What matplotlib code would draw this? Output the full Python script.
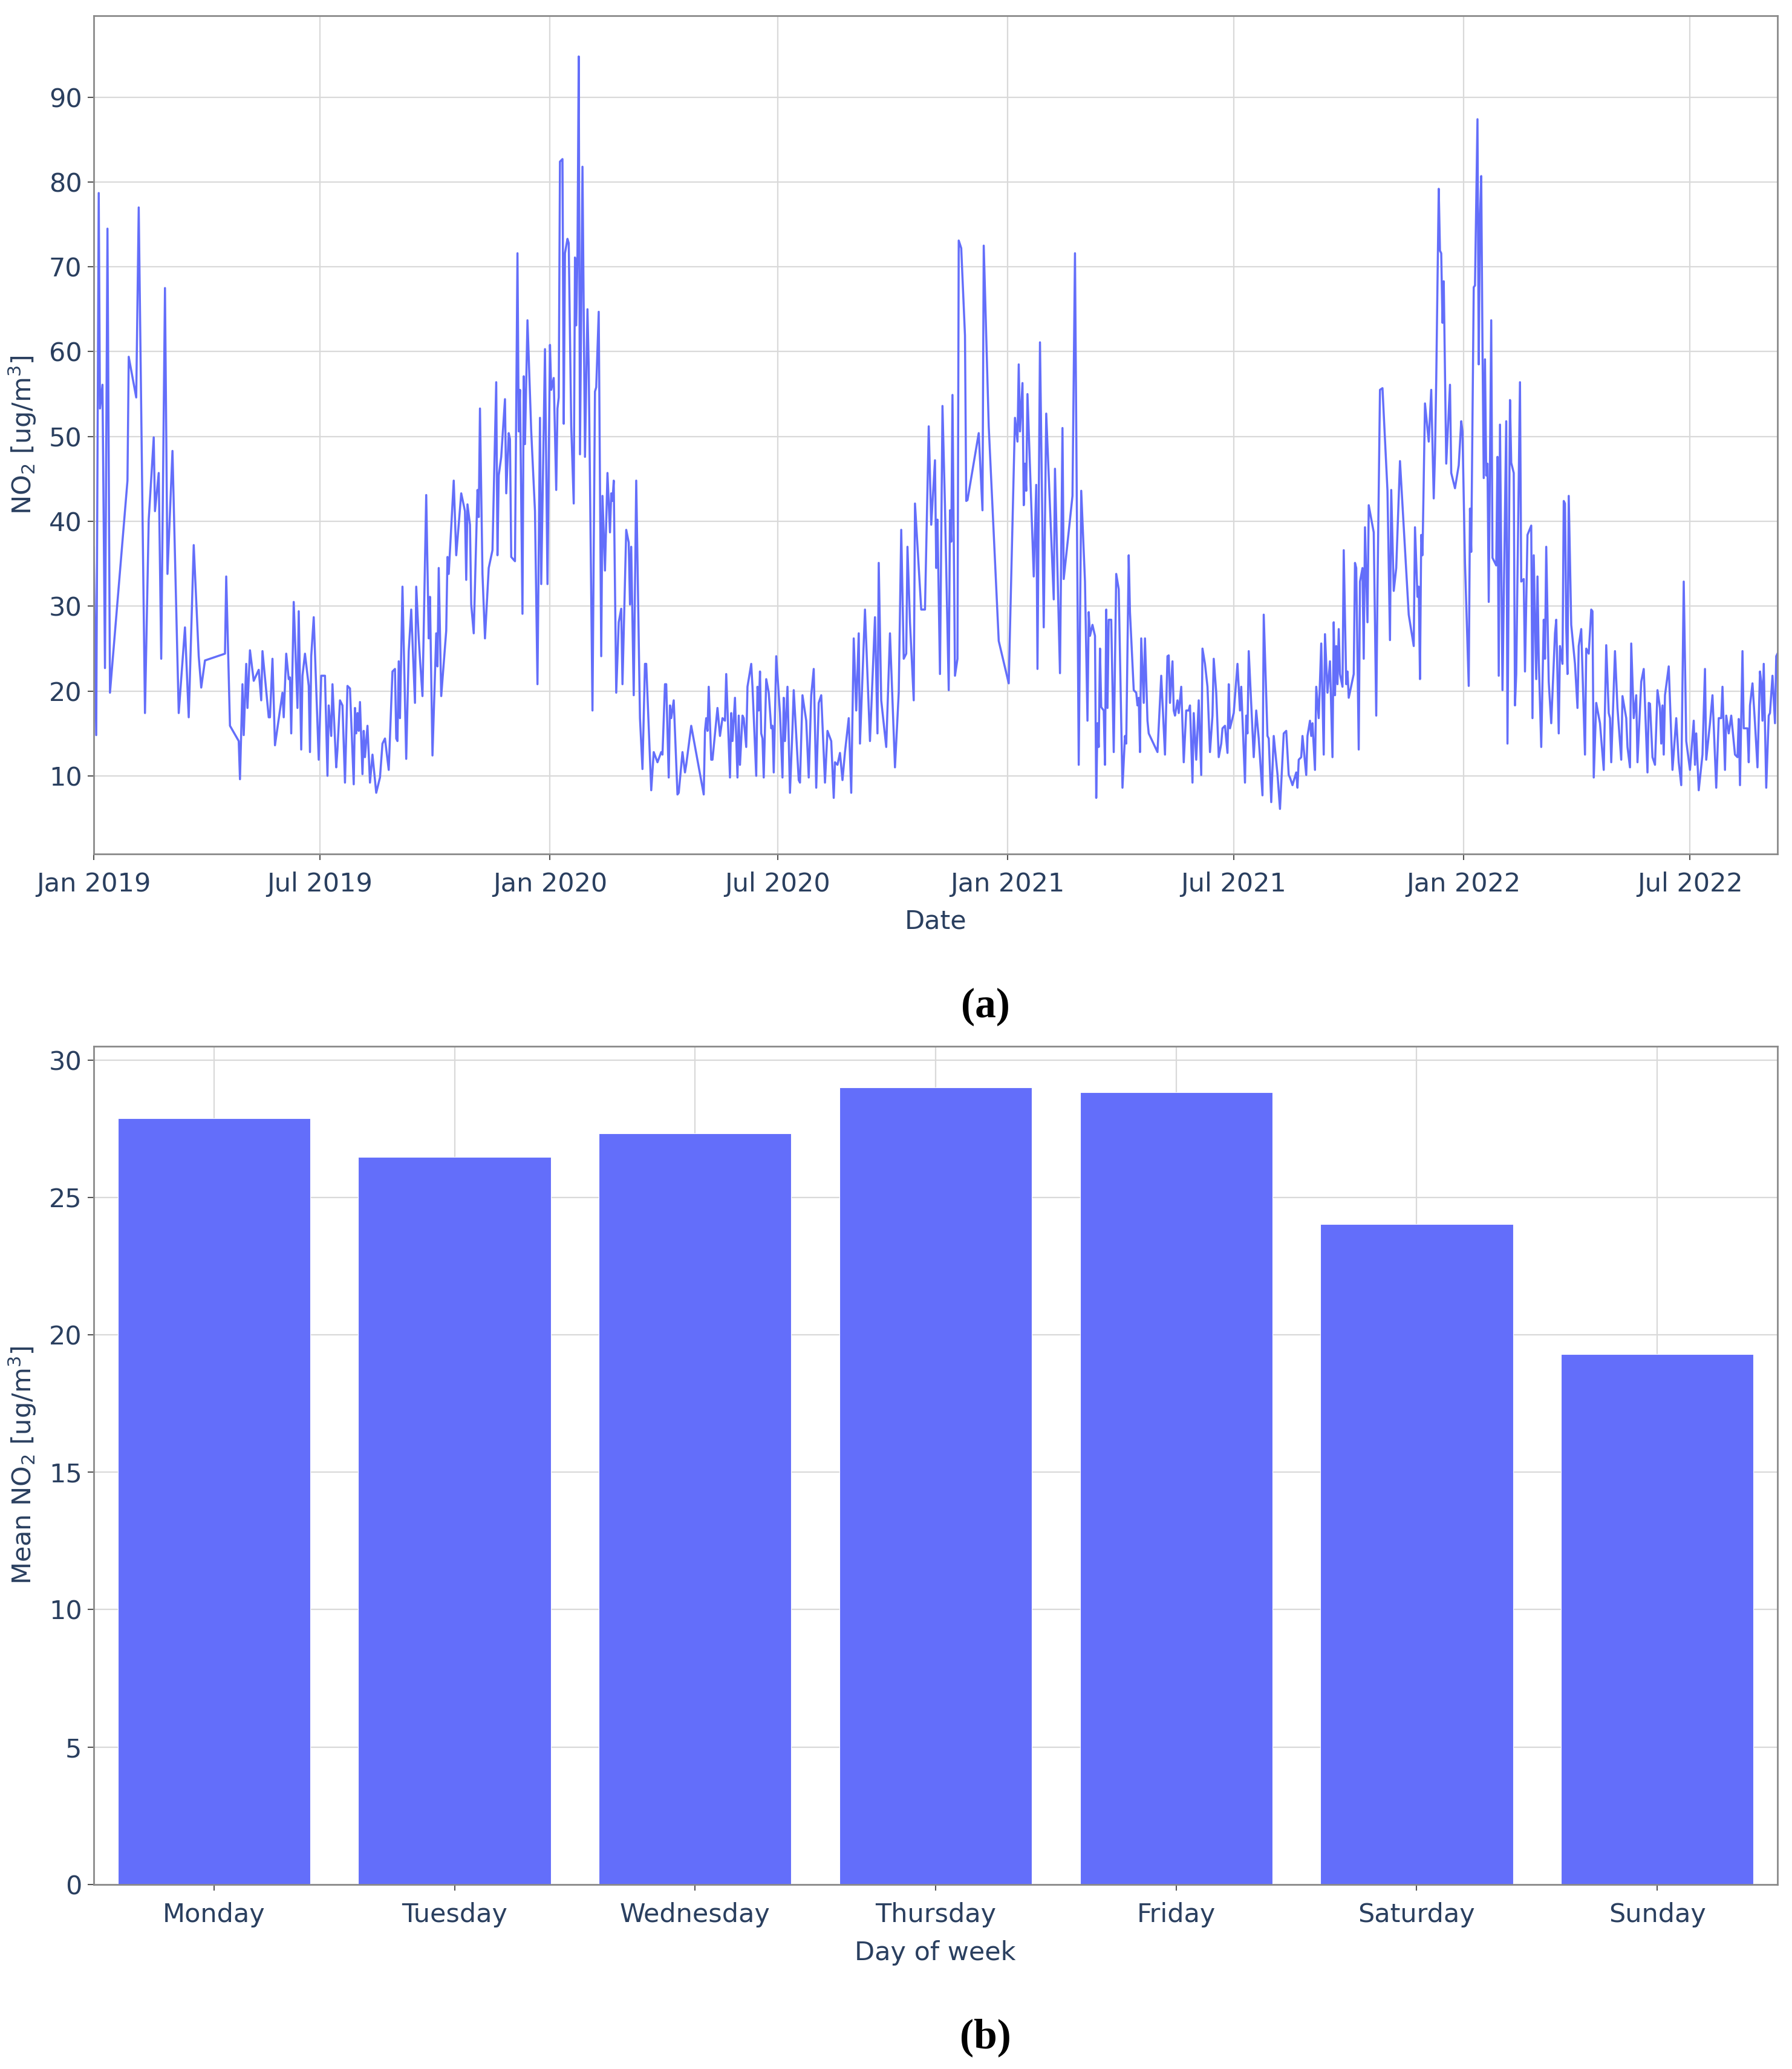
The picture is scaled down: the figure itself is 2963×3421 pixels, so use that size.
import pandas as pd
import matplotlib
matplotlib.use("Agg")
from matplotlib import pyplot as plt

# daily NO2 series (days since 2019-01-01, ug/m3)
START = pd.Timestamp("2019-01-01")

day_offset = [
    0, 2, 4, 5, 7, 9, 11, 13, 27, 28,
    34, 36, 41, 44, 48, 49, 52, 54, 57, 59,
    63, 68, 73, 76, 80, 84, 86, 89, 105, 106,
    109, 116, 117, 119, 120, 122, 123, 125, 128, 132,
    134, 135, 140, 141, 143, 145, 151, 152, 154, 156,
    157, 158, 160, 163, 164, 166, 167, 169, 172, 173,
    174, 176, 180, 182, 185, 187, 188, 190, 191, 194,
    195, 197, 199, 201, 203, 205, 208, 209, 210, 211,
    212, 213, 215, 216, 217, 219, 221, 223, 226, 229,
    231, 233, 236, 239, 241, 242, 243, 244, 245, 247,
    250, 252, 254, 257, 258, 260, 261, 263, 266, 268,
    269, 271, 274, 275, 276, 278, 282, 283, 284, 288,
    290, 294, 297, 298, 299, 301, 302, 304, 307, 308,
    309, 311, 313, 316, 319, 322, 323, 324, 326, 329,
    330, 332, 333, 334, 337, 339, 340, 341, 343, 344,
    345, 347, 350, 353, 355, 357, 358, 361, 363, 365,
    366, 368, 370, 371, 372, 373, 375, 376, 377, 379,
    380, 382, 384, 385, 386, 387, 388, 389, 391, 393,
    395, 396, 399, 401, 402, 404, 406, 407, 409, 411,
    413, 414, 415, 416, 418, 420, 422, 423, 426, 428,
    429, 430, 432, 434, 437, 439, 441, 442, 446, 448,
    451, 454, 455, 457, 458, 460, 461, 462, 464, 467,
    468, 471, 473, 474, 478, 488, 489, 490, 491, 492,
    494, 495, 499, 501, 503, 505, 506, 509, 510, 511,
    513, 515, 516, 517, 519, 520, 522, 523, 526, 527,
    530, 531, 532, 533, 534, 535, 536, 538, 540, 542,
    543, 544, 546, 549, 551, 552, 553, 555, 557, 559,
    560, 564, 565, 567, 570, 572, 574, 576, 578, 580,
    582, 585, 587, 590, 592, 593, 595, 597, 599, 601,
    604, 606, 608, 610, 612, 613, 617, 621, 625, 627,
    628, 630, 634, 637, 641, 644, 646, 648, 650, 651,
    653, 656, 657, 662, 665, 668, 670, 673, 674, 675,
    677, 679, 681, 684, 685, 686, 687, 689, 691, 692,
    694, 697, 698, 699, 708, 711, 712, 716, 724, 732,
    737, 739, 740, 741, 743, 744, 745, 746, 747, 752,
    754, 755, 757, 760, 762, 768, 769, 773, 775, 776,
    783, 785, 788, 790, 793, 795, 796, 797, 799, 801,
    802, 803, 804, 805, 806, 808, 809, 810, 811, 812,
    814, 816, 818, 820, 823, 825, 826, 828, 829, 832,
    834, 835, 836, 837, 838, 840, 841, 843, 844, 850,
    851, 854, 857, 859, 860, 861, 863, 864, 865, 867,
    868, 870, 872, 874, 876, 877, 879, 880, 882, 884,
    886, 887, 889, 891, 893, 895, 896, 898, 900, 902,
    903, 905, 907, 908, 909, 912, 915, 917, 918, 921,
    922, 923, 924, 928, 930, 932, 935, 936, 939, 940,
    942, 944, 947, 949, 952, 954, 956, 957, 959, 962,
    963, 964, 966, 967, 970, 971, 973, 974, 975, 977,
    978, 980, 982, 984, 985, 987, 989, 991, 992, 993,
    994, 995, 996, 997, 999, 1000, 1002, 1003, 1004, 1008,
    1009, 1010, 1012, 1013, 1015, 1016, 1017, 1019, 1020, 1024,
    1026, 1027, 1029, 1031, 1035, 1037, 1038, 1040, 1042, 1045,
    1052, 1056, 1057, 1059, 1060, 1061, 1062, 1063, 1065, 1068,
    1070, 1072, 1073, 1074, 1076, 1077, 1078, 1079, 1080, 1082,
    1085, 1086, 1089, 1092, 1094, 1095, 1097, 1100, 1101, 1102,
    1104, 1105, 1107, 1108, 1109, 1110, 1111, 1112, 1113, 1114,
    1115, 1116, 1118, 1119, 1122, 1123, 1124, 1125, 1127, 1130,
    1131, 1133, 1134, 1136, 1137, 1138, 1141, 1142, 1144, 1145,
    1147, 1150, 1151, 1152, 1154, 1155, 1156, 1158, 1160, 1161,
    1162, 1164, 1166, 1169, 1170, 1172, 1173, 1175, 1176, 1177,
    1178, 1179, 1180, 1182, 1185, 1187, 1188, 1190, 1191, 1193,
    1194, 1196, 1198, 1199, 1200, 1202, 1205, 1208, 1210, 1212,
    1213, 1214, 1217, 1219, 1222, 1223, 1226, 1227, 1229, 1230,
    1232, 1234, 1235, 1238, 1240, 1243, 1244, 1245, 1247, 1249,
    1251, 1253, 1254, 1255, 1256, 1257, 1260, 1263, 1266, 1268,
    1270, 1272, 1274, 1277, 1280, 1281, 1282, 1284, 1287, 1289,
    1290, 1293, 1295, 1298, 1300, 1302, 1303, 1305, 1306, 1308,
    1310, 1313, 1315, 1316, 1317, 1319, 1320, 1323, 1324, 1325,
    1327, 1329, 1331, 1333, 1334, 1335, 1336, 1338, 1340, 1341,
    1343, 1345, 1346, 1347,
]

no2_value = [
    36.9, 14.8, 78.7, 53.3, 56.1, 22.7, 74.5, 19.8, 44.8, 59.4,
    54.6, 77.0, 17.4, 40.2, 49.9, 41.2, 45.7, 23.8, 67.5, 33.8,
    48.3, 17.4, 27.5, 16.9, 37.2, 24.1, 20.4, 23.6, 24.4, 33.5,
    15.9, 14.1, 9.6, 20.8, 14.8, 23.2, 18.0, 24.8, 21.2, 22.5,
    18.9, 24.7, 16.9, 16.9, 23.8, 13.6, 19.8, 16.9, 24.4, 21.4,
    21.6, 15.0, 30.5, 18.0, 29.4, 13.1, 21.8, 24.4, 20.6, 12.8,
    24.1, 28.7, 11.9, 21.8, 21.8, 10.0, 18.3, 14.7, 20.8, 11.0,
    13.1, 18.9, 18.3, 9.2, 20.6, 20.3, 9.0, 18.0, 15.0, 17.4,
    15.3, 18.7, 10.2, 15.3, 12.2, 15.9, 9.2, 12.5, 8.0, 9.8,
    13.8, 14.4, 10.7, 22.3, 22.6, 14.4, 14.1, 23.5, 16.8, 32.3,
    12.0, 24.7, 29.6, 18.6, 32.3, 26.2, 23.8, 19.4, 43.1, 26.2,
    31.1, 12.4, 26.8, 22.9, 34.5, 19.4, 27.1, 35.8, 33.8, 44.8,
    36.0, 43.3, 41.2, 33.1, 42.0, 39.6, 30.2, 26.8, 43.7, 40.5,
    53.3, 33.8, 26.2, 34.5, 36.6, 56.4, 36.0, 45.4, 47.6, 54.4,
    43.3, 50.4, 49.7, 35.8, 35.3, 71.6, 50.6, 55.5, 29.1, 57.1,
    49.1, 63.7, 50.6, 41.2, 20.8, 52.2, 32.6, 60.3, 32.6, 60.8,
    55.5, 56.9, 43.7, 53.3, 54.6, 82.4, 82.7, 51.5, 71.6, 73.3,
    72.8, 51.2, 42.1, 71.1, 63.1, 71.6, 94.8, 47.9, 81.8, 47.6,
    65.0, 58.2, 17.7, 55.3, 55.8, 64.7, 24.1, 43.0, 34.2, 45.7,
    38.7, 43.3, 42.4, 44.8, 19.8, 28.1, 29.7, 20.8, 39.0, 37.5,
    30.2, 37.0, 19.5, 44.8, 16.8, 10.8, 23.2, 23.2, 8.3, 12.8,
    11.6, 12.8, 12.5, 20.8, 20.8, 9.8, 18.3, 16.8, 18.9, 7.8,
    8.0, 12.8, 10.4, 11.3, 15.9, 7.8, 15.3, 16.8, 15.3, 20.5,
    11.9, 11.9, 18.0, 14.7, 16.8, 16.5, 22.0, 9.8, 17.4, 14.1,
    19.2, 9.8, 17.1, 11.3, 17.1, 16.8, 13.4, 20.5, 23.2, 20.5,
    10.0, 20.5, 17.7, 22.3, 15.0, 14.4, 9.8, 21.4, 19.8, 15.6,
    15.9, 10.4, 24.1, 17.4, 9.8, 19.2, 14.1, 20.5, 8.0, 15.6,
    20.1, 9.5, 9.2, 19.5, 16.5, 9.8, 19.5, 22.6, 8.6, 18.6,
    19.5, 9.2, 15.3, 14.1, 7.4, 11.6, 11.3, 12.7, 9.5, 12.8,
    16.8, 8.0, 26.2, 17.7, 26.8, 13.8, 29.6, 14.1, 28.7, 15.0,
    35.1, 18.9, 13.4, 26.8, 11.0, 19.8, 39.0, 23.8, 24.4, 37.0,
    28.1, 18.9, 42.1, 29.6, 29.6, 51.2, 39.6, 47.2, 34.5, 40.2,
    22.0, 53.6, 41.8, 20.1, 41.3, 37.6, 54.9, 21.8, 23.8, 73.1,
    72.2, 61.9, 42.4, 42.5, 50.4, 41.3, 72.5, 51.2, 25.9, 20.9,
    52.2, 49.4, 58.5, 50.6, 56.3, 41.9, 46.8, 43.6, 55.0, 33.5,
    44.3, 22.6, 61.1, 27.5, 52.7, 30.8, 46.2, 22.1, 51.0, 33.2,
    43.0, 71.6, 11.3, 43.6, 32.9, 16.5, 29.3, 26.5, 27.8, 26.5,
    7.4, 16.2, 13.4, 25.0, 18.1, 17.7, 11.3, 29.6, 18.0, 28.4,
    28.4, 12.8, 33.8, 32.0, 8.6, 14.7, 13.8, 36.0, 29.3, 20.1,
    19.8, 18.3, 19.2, 12.8, 26.2, 18.6, 26.2, 16.5, 15.0, 13.1,
    12.8, 21.8, 12.5, 24.1, 24.2, 18.6, 23.5, 17.7, 17.1, 18.9,
    17.4, 20.5, 11.6, 17.7, 17.7, 18.3, 9.2, 17.4, 11.9, 18.9,
    10.1, 25.0, 23.2, 20.5, 12.8, 17.1, 23.8, 19.8, 12.2, 13.8,
    15.6, 15.9, 12.7, 20.8, 15.6, 17.4, 23.2, 17.7, 20.5, 9.2,
    17.1, 15.0, 24.7, 12.2, 17.7, 14.4, 7.7, 29.0, 14.7, 14.4,
    6.9, 14.7, 10.2, 6.1, 15.0, 15.3, 10.1, 9.8, 8.9, 10.4,
    8.6, 11.9, 12.2, 14.7, 10.1, 14.7, 16.5, 14.7, 16.2, 10.7,
    20.5, 16.8, 25.6, 12.5, 26.7, 19.8, 23.5, 12.2, 28.1, 19.5,
    25.3, 20.8, 27.3, 22.0, 20.5, 36.6, 20.8, 22.3, 19.2, 22.0,
    35.1, 34.5, 13.1, 32.9, 34.5, 23.8, 39.3, 28.1, 41.9, 38.7,
    17.1, 31.8, 55.5, 55.7, 43.6, 26.0, 43.7, 31.8, 34.5, 47.1,
    29.0, 25.3, 39.3, 31.1, 32.3, 21.4, 38.4, 36.0, 53.9, 49.4,
    55.5, 42.7, 47.9, 56.7, 79.2, 71.9, 71.6, 63.4, 68.3, 46.8,
    56.1, 45.7, 43.9, 46.6, 51.8, 50.6, 35.1, 20.6, 41.5, 36.4,
    67.6, 67.8, 87.4, 58.5, 75.9, 80.7, 60.6, 45.1, 59.1, 45.4,
    46.8, 30.5, 63.7, 35.7, 34.8, 47.6, 21.8, 51.4, 20.1, 51.8,
    13.8, 54.3, 46.9, 45.7, 18.3, 22.0, 56.4, 32.9, 33.2, 22.3,
    38.4, 39.5, 16.8, 36.0, 21.4, 33.5, 23.8, 13.4, 28.4, 23.8,
    37.0, 21.1, 16.2, 26.8, 28.4, 15.0, 25.3, 23.2, 42.4, 42.1,
    27.5, 22.0, 43.0, 27.8, 23.2, 18.0, 25.3, 27.3, 22.3, 12.5,
    25.0, 24.4, 29.6, 29.4, 9.8, 18.6, 16.2, 10.7, 25.4, 17.4,
    16.8, 11.6, 24.7, 18.0, 11.9, 19.4, 16.8, 13.4, 11.0, 25.6,
    16.8, 19.5, 11.6, 21.1, 22.6, 10.4, 18.6, 18.5, 12.2, 11.3,
    20.1, 18.0, 13.8, 18.3, 12.5, 19.5, 22.9, 10.7, 16.8, 11.6,
    8.9, 32.9, 14.1, 10.7, 16.5, 11.3, 15.0, 8.3, 12.5, 22.6,
    11.9, 16.2, 19.5, 8.6, 16.8, 16.8, 20.5, 10.7, 17.1, 15.0,
    17.1, 12.5, 12.2, 16.7, 8.9, 24.7, 15.6, 15.6, 11.6, 18.3,
    20.9, 16.2, 11.0, 22.3, 21.1, 16.5, 23.2, 8.6, 17.1, 17.4,
    21.8, 16.2, 24.1, 24.4,
]

date_ticks = ["2019-01-01", "2019-07-01", "2020-01-01", "2020-07-01",
              "2021-01-01", "2021-07-01", "2022-01-01", "2022-07-01"]
date_tick_labels = ["Jan 2019", "Jul 2019", "Jan 2020", "Jul 2020",
                    "Jan 2021", "Jul 2021", "Jan 2022", "Jul 2022"]

weekdays = ["Monday", "Tuesday", "Wednesday", "Thursday",
            "Friday", "Saturday", "Sunday"]
weekday_mean = [27.88, 26.47, 27.33, 29.0, 28.83, 24.03, 19.30]

BLUE = "#636efa"
TEXT = "#2a3f5f"
GRID = "#d9d9d9"
FRAME = "#8a8a8a"
FS = 31

plt.rcParams["font.family"] = ["DejaVu Sans"]


def style_axes(ax):
    for sp in ax.spines.values():
        sp.set_color(FRAME)
        sp.set_linewidth(2)
    ax.grid(True, color=GRID, linewidth=1.6)
    ax.set_axisbelow(True)
    ax.tick_params(direction="out", length=7, width=1.5, color="#555555",
                   labelcolor=TEXT, labelsize=FS)
    ax.tick_params(axis="x", pad=14)
    ax.tick_params(axis="y", pad=7)


fig = plt.figure(figsize=(29.63, 34.21), dpi=100)

# (a) time series
ax1 = fig.add_axes([0.0523, 0.5873, 0.9396, 0.4051])
n = min(len(day_offset), len(no2_value))
dates = START + pd.to_timedelta(day_offset[:n], unit="D")
ax1.plot(dates, no2_value[:n], color=BLUE, linewidth=2.5)
ax1.set_xlim(dates[0], dates[-1])
ax1.set_ylim(0.8, 99.6)
ax1.set_yticks(range(10, 100, 10))
ax1.set_xticks(pd.to_datetime(date_ticks))
ax1.set_xticklabels(date_tick_labels)
style_axes(ax1)

# (b) mean by weekday
ax2 = fig.add_axes([0.0523, 0.0892, 0.9396, 0.4051])
ax2.bar(range(len(weekdays)), weekday_mean, width=0.8, color=BLUE,
        edgecolor="white", linewidth=0.8)
ax2.set_xlim(-0.5, len(weekdays) - 0.5)
ax2.set_ylim(0, 30.5)
ax2.set_yticks(range(0, 31, 5))
ax2.set_xticks(range(len(weekdays)))
ax2.set_xticklabels(weekdays)
style_axes(ax2)

fig.text(0.522, 0.5548, "Date", color=TEXT, fontsize=FS,
         ha="center", va="center")
fig.text(0.522, 0.0561, "Day of week", color=TEXT, fontsize=FS,
         ha="center", va="center")
fig.text(0.0125, 0.7898, r"NO$_2$ [ug/m$^3$]", color=TEXT, fontsize=FS,
         ha="center", va="center", rotation=90)
fig.text(0.0125, 0.2917, r"Mean NO$_2$ [ug/m$^3$]", color=TEXT, fontsize=FS,
         ha="center", va="center", rotation=90)

fig.text(0.550, 0.5133, "(a)", fontsize=50, fontweight="bold",
         family=["Liberation Serif", "DejaVu Serif"], ha="center", va="center")
fig.text(0.550, 0.0153, "(b)", fontsize=50, fontweight="bold",
         family=["Liberation Serif", "DejaVu Serif"], ha="center", va="center")

fig.savefig("out.png", dpi=100, facecolor="white")
